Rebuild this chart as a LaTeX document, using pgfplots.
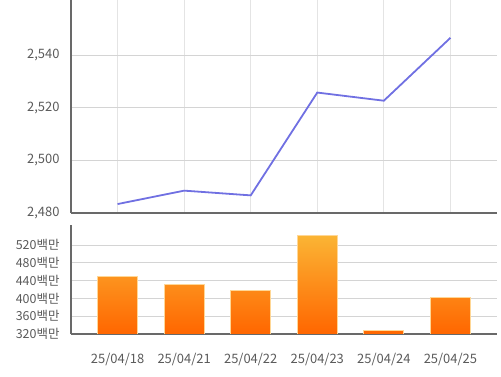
\documentclass[border=0pt]{standalone}
\usepackage{pgfplots}
\pgfplotsset{compat=1.18}
\usepackage{fontspec}
\setmainfont{Noto Sans CJK KR}
\definecolor{lbl}{RGB}{90,90,90}
\definecolor{spine}{RGB}{105,105,105}
\definecolor{hgrid}{RGB}{212,212,212}
\definecolor{vgrid}{RGB}{228,228,228}
\definecolor{lineblue}{RGB}{112,112,226}
\definecolor{bartop}{RGB}{251,180,52}
\definecolor{barbot}{RGB}{255,102,0}
\definecolor{baredge}{RGB}{255,215,150}
\begin{document}
\begin{tikzpicture}
\useasboundingbox (0bp,0bp) rectangle (501bp,377bp);
\pgfplotsset{common/.style={scale only axis, width=426bp,
  xmin=-0.7, xmax=5.7,
  axis x line*=bottom, axis y line*=left,
  axis line style={spine, line width=1.6bp, -},
  major tick length=0pt,
  tick label style={font=\fontsize{13}{15}\selectfont, text=lbl},
  /pgf/number format/assume math mode=true,
  xtick={0,...,5},
  yticklabel style={xshift=-8bp},
  y grid style={hgrid, line width=1bp},
  x grid style={vgrid, line width=1bp}}}
\begin{axis}[common, at={(71bp,164bp)}, anchor=south west, height=213bp,
  ymin=2480, ymax=2561, ytick={2480,2500,2520,2540},
  xticklabels={}, ymajorgrids, xmajorgrids,
  /pgf/number format/1000 sep={,}]
\addplot[lineblue, line width=1.8bp] coordinates {(0,2483.4)(1,2488.5)(2,2486.7)(3,2525.8)(4,2522.7)(5,2546.6)};
\end{axis}
\begin{axis}[common, at={(71bp,43bp)}, anchor=south west, height=109bp,
  y coord trafo/.code={\pgfmathparse{#1-320}},
  y coord inv trafo/.code={\pgfmathparse{#1+320}},
  ymin=320, ymax=565,
  ytick={320,360,400,440,480,520},
  yticklabels={320백만,360백만,400백만,440백만,480백만,520백만},
  yticklabel style={font=\fontsize{12.5}{14}\selectfont},
  xticklabels={25/04/18,25/04/21,25/04/22,25/04/23,25/04/24,25/04/25},
  xticklabel style={yshift=-16bp},
  ymajorgrids]
\addplot[ybar, bar width=0.6, bar shift=0pt, draw=baredge, line width=0.8bp, top color=bartop, bottom color=barbot]
  coordinates {(0,450)(1,432)(2,417)(3,541)(4,327)(5,402)};
\end{axis}
\end{tikzpicture}
\end{document}
